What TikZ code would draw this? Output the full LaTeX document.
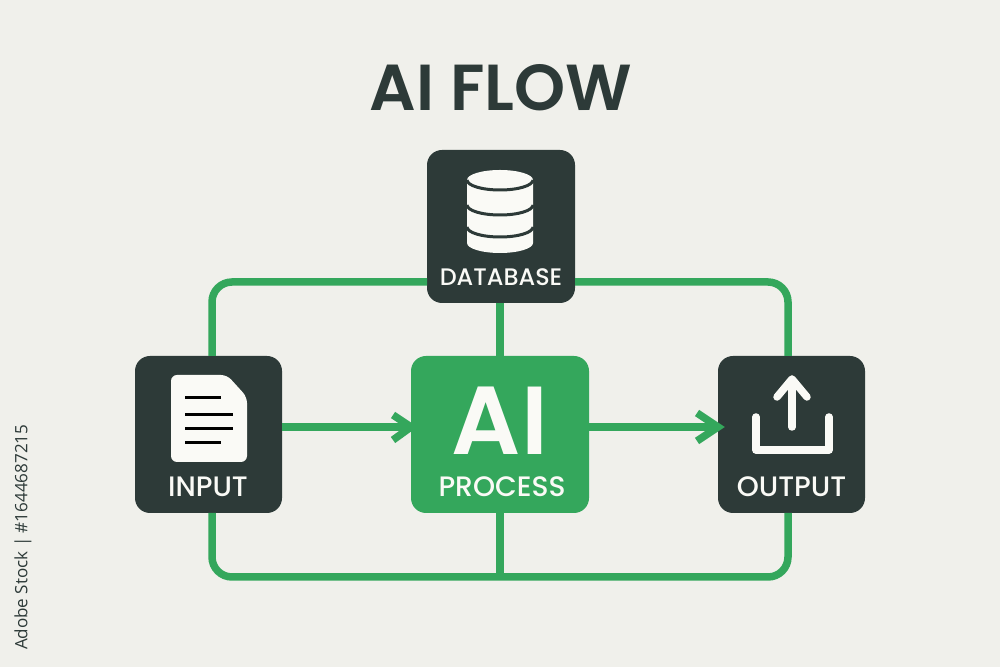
\documentclass[tikz,border=0pt]{standalone}
\usepackage{fontspec}
\setmainfont[BoldFont={Poppins SemiBold}]{Poppins Medium}
\newfontfamily\stockfont{Open Sans}
\usepackage{tikz}
\definecolor{paper}{HTML}{F0F0EB}
\definecolor{slate}{HTML}{2D3A38}
\definecolor{leaf}{HTML}{34A75C}
\definecolor{chalk}{HTML}{FAFAF6}
\tikzset{
    every node/.style={inner sep=0pt, outer sep=0pt}
}
\tikzset{
    box/.style={draw=none, fill=slate, rounded corners=.3cm},
    wire/.style={draw=leaf, line width=.15cm},
    tag/.style={text=chalk, font=\fontsize{16}{16}\selectfont},
    iconline/.style={chalk, line width=.15cm, line cap=round, line join=round}
}
\begin{document}
\begin{tikzpicture}
  \useasboundingbox [fill=paper] (0cm, 0cm) rectangle (20cm, 13.34cm);

  \node (title) [text=slate, font=\bfseries\fontsize{37}{37}\selectfont] at (10.02cm, 11.58cm) {AI FLOW};
  \node (stock) [rotate=90, text=slate, font=\stockfont\fontsize{9.7}{9.7}\selectfont, anchor=west] at (.46cm, .34cm) {Adobe Stock | \#1644687215};

  \node (database) [box, minimum width=2.96cm, minimum height=3.06cm] at (10.02cm, 8.81cm) {};
  \node (input) [box, minimum width=2.94cm, minimum height=3.14cm] at (4.17cm, 4.65cm) {};
  \node (process) [box, fill=leaf, minimum width=3.56cm, minimum height=3.14cm] at (10cm, 4.65cm) {};
  \node (output) [box, minimum width=2.94cm, minimum height=3.14cm] at (15.83cm, 4.65cm) {};

  \node (databasetag) [tag, font=\fontsize{13.6}{13.6}\selectfont] at (10.02cm, 7.8cm) {DATABASE};
  \node (inputtag) [tag] at (4.16cm, 3.6cm) {INPUT};
  \node (outputtag) [tag] at (15.83cm, 3.6cm) {OUTPUT};
  \node (ai) [text=chalk, text height=38pt, text depth=0pt, font=\bfseries\fontsize{55}{55}\selectfont] at (10cm, 4.92cm) {AI};
  \node (processtag) [tag] at (10.04cm, 3.6cm) {PROCESS};

  % top and bottom loops
  \draw [wire, rounded corners=.4cm] ([xshift=.07cm]input.north) |- (database.west |- 0, 7.7cm);
  \draw [wire, rounded corners=.4cm] ([xshift=-.07cm]output.north) |- (database.east |- 0, 7.7cm);
  \draw [wire, rounded corners=.4cm] ([xshift=.07cm]input.south) |- (10cm, 1.8cm) -| ([xshift=-.07cm]output.south);
  \draw [wire] (database.south -| process.north) -- (process.north);
  \draw [wire] (process.south) -- (process.south |- 0, 1.8cm);

  % arrows into the boxes
  \coordinate (intip) at ([yshift=.15cm]process.west);
  \coordinate (outtip) at ([yshift=.15cm]output.west);
  \draw [wire] (input.east |- intip) -- (intip);
  \draw [wire, line cap=butt] (7.86cm, 5.04cm) -- (intip) -- (7.86cm, 4.54cm);
  \draw [wire] (process.east |- outtip) -- (outtip);
  \draw [wire, line cap=butt] (13.94cm, 5.08cm) -- (outtip) -- (13.94cm, 4.52cm);

  % database icon
  \fill [chalk] (9.34cm, 9.74cm) arc [start angle=180, end angle=0, x radius=.66cm, y radius=.2cm]
    -- (10.66cm, 8.48cm) arc [start angle=360, end angle=180, x radius=.66cm, y radius=.2cm] -- cycle;
  \foreach \y in {9.74, 9.24, 8.8}
    \draw [slate, line width=.06cm] (9.34cm, \y cm) arc [start angle=180, end angle=360, x radius=.66cm, y radius=.2cm];

  % input icon
  \fill [chalk, rounded corners=.12cm] (3.42cm, 5.84cm) -- (4.54cm, 5.84cm) -- (4.94cm, 5.4cm) -- (4.94cm, 4.1cm) -- (3.42cm, 4.1cm) -- cycle;
  \foreach \y/\x in {5.38/4.42, 5.04/4.66, 4.76/4.66, 4.48/4.42}
    \draw [black, line width=.06cm] (3.7cm, \y cm) -- (\x cm, \y cm);

  % output icon
  \draw [iconline] (15.12cm, 5cm) -- (15.12cm, 4.34cm) -- (16.58cm, 4.34cm) -- (16.58cm, 5cm);
  \draw [iconline] (15.84cm, 4.8cm) -- (15.84cm, 5.72cm);
  \draw [iconline] (15.54cm, 5.4cm) -- (15.84cm, 5.76cm) -- (16.14cm, 5.4cm);
\end{tikzpicture}
\end{document}
